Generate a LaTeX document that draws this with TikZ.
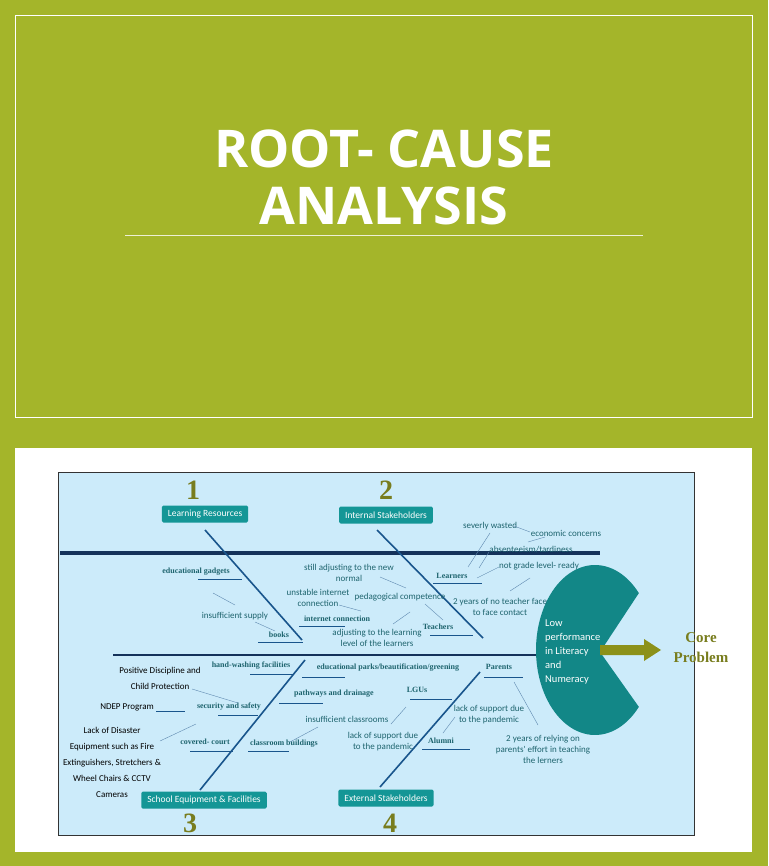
\documentclass[tikz,border=0pt]{standalone}
\usepackage{fontspec}
\setmainfont{Liberation Serif}
\newfontfamily\titlef{Open Sans}
\newfontfamily\thinf{Carlito}
\definecolor{olivebg}{RGB}{164,181,42}
\definecolor{skyb}{RGB}{204,235,250}
\definecolor{tealbox}{RGB}{20,150,150}
\definecolor{navy}{RGB}{20,50,90}
\definecolor{tealtxt}{RGB}{30,100,110}
\definecolor{bone}{RGB}{25,85,140}
\definecolor{numc}{RGB}{120,125,30}
\tikzset{
 catbox/.style={fill=tealbox,rounded corners=1.5pt,text=white,font=\thinf\fontsize{9.5}{10}\selectfont,minimum height=17pt,inner xsep=6pt},
 num/.style={text=numc,font=\bfseries\fontsize{28}{28}\selectfont},
 blab/.style={text=tealtxt,font=\bfseries\fontsize{8}{9}\selectfont,inner sep=0pt},
 tlab/.style={text=tealtxt,font=\thinf\fontsize{9}{11}\selectfont,align=center,inner sep=0pt},
 klab/.style={text=black,font=\thinf\fontsize{9}{16}\selectfont,align=center,inner sep=0pt},
 ul/.style={draw=bone,line width=0.9pt},
 thin/.style={draw=bone!70,line width=0.4pt},
 bonel/.style={draw=bone,line width=1.6pt}
}
\begin{document}
\begin{tikzpicture}[x=1pt,y=-1pt]
\fill[olivebg] (0,0) rectangle (768,866);
\useasboundingbox (0,0) rectangle (768,866);
\draw[white,line width=0.8pt] (15,15) rectangle (752,417);
\node[text=white,font=\titlef\bfseries\fontsize{52}{57}\selectfont,align=center] (title) at (384,177) {ROOT- CAUSE\\ANALYSIS};
\draw[white!80!olivebg,line width=0.6pt] (125,235) -- (643,235);
\fill[white] (15,448) rectangle (752,852);
\draw[fill=skyb,draw=black!80,line width=1pt] (58,472) rectangle (694,835);
% spines
\draw[navy,line width=4.5pt] (60,553) -- (600,553);
\draw[navy,line width=1.8pt] (113,655) -- (560,655);
% bones
\coordinate (b1a) at (205,530); \coordinate (b1b) at (302,640);
\coordinate (b2a) at (377,530); \coordinate (b2b) at (483,638);
\coordinate (b3a) at (200,790); \coordinate (b3b) at (305,660);
\coordinate (b4a) at (380,787); \coordinate (b4b) at (480,672);
\draw[bonel] (b1a)--(b1b); \draw[bonel] (b2a)--(b2b);
\draw[bonel] (b3a)--(b3b); \draw[bonel] (b4a)--(b4b);
% category boxes
\node[catbox] (c1) at (205,514) {Learning Resources};
\node[catbox] (c2) at (386,515) {Internal Stakeholders};
\node[catbox] (c3) at (204,800) {School Equipment \& Facilities};
\node[catbox] (c4) at (386,798) {External Stakeholders};
\node[num] (n1) at (193,490) {1};
\node[num] (n2) at (386,490) {2};
\node[num] (n3) at (190,823) {3};
\node[num] (n4) at (390,823) {4};
% pacman
\fill[tealbox!90!black] (600,652) -- plot[domain=42:318,samples=80] ({595+59*cos(\x)},{650-85*sin(\x)}) -- cycle;
\node[text=white,font=\thinf\fontsize{10.5}{14}\selectfont,align=left,anchor=west,inner sep=0pt] (core) at (545,652) {Low\\performance\\in Literacy\\and\\Numeracy};
\fill[numc!85!yellow] (600,645) -- (644,645) -- (644,639) -- (661,650) -- (644,661) -- (644,655) -- (600,655) -- cycle;
\node[text=numc,font=\bfseries\fontsize{15}{20}\selectfont,align=center] (cp) at (701,648) {Core\\Problem};
% bold labels with underlines
\node[blab] (l1) at (196,572) {educational gadgets}; \draw[ul] (198,579)--(242,579);
\node[blab] (l2) at (279,635) {books}; \draw[ul] (258,642)--(303,642);
\node[blab] (l3) at (337,619) {internet connection}; \draw[ul] (299,626)--(345,626);
\node[blab] (l4) at (452,576) {Learners}; \draw[ul] (433,583)--(482,583);
\node[blab] (l5) at (438,627) {Teachers}; \draw[ul] (430,635)--(473,635);
\node[blab] (l6) at (251,666) {hand-washing facilities}; \draw[ul] (250,674)--(293,674);
\node[blab] (l7) at (388,668) {educational parks/beautification/greening}; \draw[ul] (302,677)--(345,677);
\node[blab] (l8) at (334,694) {pathways and drainage}; \draw[ul] (279,703)--(323,703);
\node[blab] (l9) at (229,707) {security and safety}; \draw[ul] (218,715)--(258,715);
\node[blab] (l10) at (205,742) {covered- court}; \draw[ul] (190,751)--(233,751);
\node[blab] (l11) at (284,744) {classroom buildings}; \draw[ul] (248,751)--(289,751);
\node[blab] (l12) at (499,667) {Parents}; \draw[ul] (484,677)--(523,677);
\node[blab] (l13) at (417,690) {LGUs}; \draw[ul] (410,699)--(452,699);
\node[blab] (l14) at (441,741) {Alumni}; \draw[ul] (422,749)--(470,749);
% thin labels
\node[tlab] (t1) at (490,526) {severly wasted};
\node[tlab] (t2) at (566,533) {economic concerns};
\node[tlab] (t3) at (531,550) {absenteeism/tardiness};
\node[tlab] (t4) at (539,566) {not grade level- ready};
\node[tlab] (t5) at (500,607) {2 years of no teacher face\\to face contact};
\node[tlab] (t6) at (349,573) {still adjusting to the new\\normal};
\node[tlab] (t7) at (318,598) {unstable internet\\connection};
\node[tlab] (t8) at (400,597) {pedagogical competence};
\node[tlab] (t9) at (377,638) {adjusting to the learning\\level of the learners};
\node[tlab] (t10) at (235,616) {insufficient supply};
\node[tlab] (t11) at (347,719) {insufficient classrooms};
\node[tlab] (t12) at (383,742) {lack of support due\\to the pandemic};
\node[tlab] (t13) at (489,715) {lack of support due\\to the pandemic};
\node[tlab] (t14) at (543,749) {2 years of relying on\\parents' effort in teaching\\the lerners};
% black labels
\node[klab] (k1) at (160,678) {Positive Discipline and\\Child Protection};
\node[klab] (k2) at (127,707) {NDEP Program};
\node[klab] (k3) at (112,762) {Lack of Disaster\\Equipment such as Fire\\Extinguishers, Stretchers \&\\Wheel Chairs \& CCTV\\Cameras};
% thin connectors
\draw[thin] (213,593)--(235,605);
\draw[thin] (255,622)--(275,631);
\draw[thin] (380,577)--(406,588);
\draw[thin] (339,605)--(361,611);
\draw[thin] (393,624)--(410,612);
\draw[thin] (425,604)--(443,620);
\draw[thin] (490,533)--(468,567);
\draw[thin] (514,526)--(530,532);
\draw[thin] (489,552)--(479,568);
\draw[thin] (528,542)--(545,537);
\draw[thin] (477,578)--(499,567);
\draw[thin] (510,591)--(530,578);
\draw[thin] (192,689)--(238,703);
\draw[ul,line width=0.7pt] (156,711)--(185,711);
\draw[thin] (160,741)--(196,724);
\draw[thin] (290,742)--(318,727);
\draw[thin] (391,724)--(406,707);
\draw[thin] (443,733)--(455,717);
\draw[thin] (514,682)--(538,725);
\end{tikzpicture}
\end{document}
